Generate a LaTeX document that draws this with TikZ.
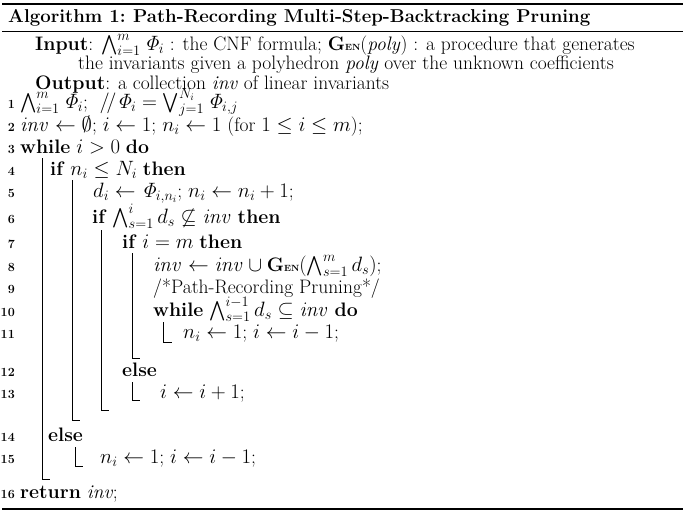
\documentclass[tikz,border=0pt]{standalone}
\usepackage{amsmath,amssymb}
\newcommand{\GenK}{\textbf{G{\small EN}}}
\begin{document}
\begin{tikzpicture}[x=1pt,y=1pt,
  L/.style={anchor=base west,inner sep=0pt,font=\fontsize{19.5}{22}\selectfont},
  N/.style={anchor=base east,inner sep=0pt,font=\fontsize{12.5}{14}\selectfont\bfseries},
  bar/.style={line width=0.7pt}]
\useasboundingbox (0,0) rectangle (685,-514);
\draw[line width=1.4pt] (2,-4) -- (683,-4);
\draw[line width=0.7pt] (2,-31) -- (683,-31);
\draw[line width=1.4pt] (2,-509) -- (683,-509);
\node[L,font=\fontsize{18.6}{21}\selectfont] (cap) at (8,-23) {\textbf{Algorithm 1:} \textbf{Path-Recording Multi-Step-Backtracking Pruning}};
\node[L] (in1) at (35,-50) {\textbf{Input}: $\bigwedge_{i=1}^{m}\mathit{\Phi}_i$ : the CNF formula; \GenK(\textit{poly}) : a procedure that generates};
\node[L] (in2) at (78,-69) {the invariants given a polyhedron \textit{poly} over the unknown coefficients};
\node[L] (out) at (35,-89) {\textbf{Output}: a collection \textit{inv} of linear invariants};
\node[N] (n1) at (15,-108) {1}; \node[L] (t1) at (20,-108) {$\bigwedge_{i=1}^{m}\mathit{\Phi}_i$;\ \ $/\!/\mathit{\Phi}_i=\bigvee_{j=1}^{N_i}\mathit{\Phi}_{i,j}$};
\node[N] (n2) at (15,-131) {2}; \node[L] (t2) at (20,-131) {$\mathit{inv}\leftarrow\emptyset$; $i\leftarrow1$; $n_i\leftarrow1$ (for $1\le i\le m$);};
\node[N] (n3) at (15,-153) {3}; \node[L] (t3) at (20,-153) {\textbf{while} $i>0$ \textbf{do}};
\node[N] (n4) at (15,-175) {4}; \node[L] (t4) at (50,-175) {\textbf{if} $n_i\le N_i$ \textbf{then}};
\node[N] (n5) at (15,-197) {5}; \node[L] (t5) at (93,-197) {$d_i\leftarrow\mathit{\Phi}_{i,n_i}$; $n_i\leftarrow n_i+1$;};
\node[N] (n6) at (15,-223) {6}; \node[L] (t6) at (92,-223) {\textbf{if} $\bigwedge_{s=1}^{i}d_s\not\subseteq\mathit{inv}$ \textbf{then}};
\node[N] (n7) at (15,-248) {7}; \node[L] (t7) at (122,-248) {\textbf{if} $i=m$ \textbf{then}};
\node[N] (n8) at (15,-271) {8}; \node[L] (t8) at (153,-271) {$\mathit{inv}\leftarrow\mathit{inv}\cup\GenK(\bigwedge_{s=1}^{m}d_s)$;};
\node[N] (n9) at (15,-293) {9}; \node[L] (t9) at (153,-293) {/*Path-Recording Pruning*/};
\node[N] (n10) at (15,-316) {10}; \node[L] (t10) at (153,-316) {\textbf{while} $\bigwedge_{s=1}^{i-1}d_s\subseteq\mathit{inv}$ \textbf{do}};
\node[N] (n11) at (15,-338) {11}; \node[L] (t11) at (183,-338) {$n_i\leftarrow1$; $i\leftarrow i-1$;};
\node[N] (n12) at (15,-376) {12}; \node[L] (t12) at (122,-376) {\textbf{else}};
\node[N] (n13) at (15,-398) {13}; \node[L] (t13) at (160,-398) {$i\leftarrow i+1$;};
\node[N] (n14) at (15,-441) {14}; \node[L] (t14) at (48,-441) {\textbf{else}};
\node[N] (n15) at (15,-463) {15}; \node[L] (t15) at (100,-463) {$n_i\leftarrow1$; $i\leftarrow i-1$;};
\node[N] (n16) at (15,-498) {16}; \node[L] (t16) at (20,-498) {\textbf{return} \textit{inv};};
% block bars
\draw[bar] (42,-158) -- (42,-479) -- (50,-479);
\draw[bar] (72,-180) -- (72,-420) -- (80,-420);
\draw[bar] (101,-230) -- (101,-410) -- (109,-410);
\draw[bar] (132,-253) -- (132,-358) -- (140,-358);
\draw[bar] (163,-322) -- (163,-342) -- (172,-342);
\draw[bar] (132,-382) -- (132,-400) -- (140,-400);
\draw[bar] (75,-447) -- (75,-466) -- (83,-466);
\end{tikzpicture}
\end{document}
